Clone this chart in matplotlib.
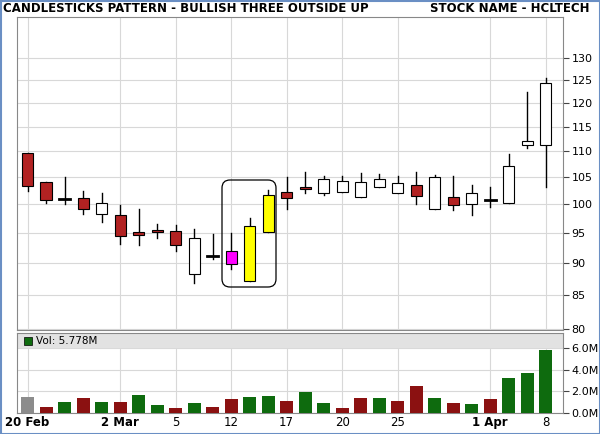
import matplotlib
matplotlib.use("Agg")
import matplotlib.pyplot as plt
from matplotlib.patches import Rectangle, FancyBboxPatch
from matplotlib.ticker import FixedLocator, NullLocator, FuncFormatter

opens  = [109.6,104.1,101.0,101.1,98.3,98.1,95.1,95.5,95.4,88.3,91.1,91.9,87.2,95.2,102.2,103.2,102.0,102.2,101.3,103.2,102.0,103.5,99.2,101.3,100.1,100.7,100.25,111.2,111.2]
closes = [103.4,100.8,100.9,99.2,100.25,94.5,94.7,95.2,92.9,94.2,91.1,89.8,96.2,101.7,101.1,102.8,104.6,104.3,104.1,104.6,103.9,101.5,105.0,99.9,102.0,100.6,107.1,112.0,124.4]
highs  = [109.6,104.1,105.0,102.4,102.0,99.8,99.1,96.6,96.3,95.6,94.9,95.0,97.6,102.6,105.0,105.9,105.2,105.2,105.8,105.6,105.2,105.9,105.4,105.2,103.5,103.2,109.4,122.4,125.5]
lows   = [102.5,100.2,100.0,98.3,96.9,93.2,92.9,94.1,92.0,86.8,90.7,89.0,87.2,95.2,99.1,102.0,101.7,102.2,101.3,103.2,102.0,100.0,99.2,99.0,98.1,99.5,100.25,110.6,103.2]
volumes = [1.5,0.6,1.0,1.4,1.0,1.0,1.7,0.7,0.5,0.9,0.6,1.3,1.5,1.6,1.1,1.9,0.9,0.5,1.4,1.4,1.1,2.5,1.4,0.9,0.8,1.3,3.2,3.7,5.8]
vol_colors = ['g','r','G','r','G','r','G','G','r','G','r','r','G','G','r','G','G','r','r','G','r','r','G','r','G','r','G','G','G']
tick_pos = [0,5,8,11,14,17,20,25,28]
tick_labels = ['20 Feb','2 Mar','5','12','17','20','25','1 Apr','8']
pattern = [11,12,13]

fig = plt.figure(figsize=(6,4.34), dpi=100)
fig.patch.set_facecolor('white')
W,H = 600,434
ax = fig.add_axes([17/W, 1-330/H, 546/W, 313/H])
axv = fig.add_axes([17/W, 1-413/H, 546/W, 80/H])

for a in (ax, axv):
    a.set_facecolor('white')
    a.set_xlim(-0.57, 28.94)
    a.yaxis.tick_right()
    a.grid(True, color='#d8d8d8', lw=0.8)
    a.set_axisbelow(True)
    for s in a.spines.values():
        s.set_color('#888888')
    a.tick_params(axis='y', labelsize=8, length=4, color='#444444', pad=2)
    a.xaxis.set_major_locator(FixedLocator(tick_pos))

ax.set_yscale('log')
ax.set_ylim(79.8, 140)
ax.yaxis.set_major_locator(FixedLocator([80,85,90,95,100,105,110,115,120,125,130]))
ax.yaxis.set_minor_locator(NullLocator())
ax.yaxis.set_major_formatter(FuncFormatter(lambda v,p: f"{v:.0f}"))
ax.tick_params(axis='x', length=0, labelbottom=False)

w = 0.6
for i,(o,c,h,l) in enumerate(zip(opens,closes,highs,lows)):
    ax.plot([i,i],[l,h], color='black', lw=1, zorder=2)
    if i in pattern:
        fc = 'magenta' if c < o else 'yellow'
    else:
        fc = '#b22222' if c < o else 'white'
    lo, hi = min(o,c), max(o,c)
    if hi - lo < 0.15:
        ax.plot([i-w/2,i+w/2],[o,o], color='black', lw=2, zorder=3)
    else:
        ax.add_patch(Rectangle((i-w/2, lo), w, hi-lo, facecolor=fc, edgecolor='black', lw=0.8, zorder=3))

box = FancyBboxPatch((222, H-287), 54, 107, boxstyle="round,pad=0,rounding_size=8",
                     transform=None, facecolor='none', edgecolor='black', lw=0.9, zorder=4)
fig.patches.append(box)

cmap = {'g':'#8c8c8c','r':'#8b1111','G':'#0e6b0e'}
axv.bar(range(len(volumes)), volumes, width=0.7, color=[cmap[c] for c in vol_colors], zorder=3)
axv.set_ylim(0, 7.4)
axv.yaxis.set_major_locator(FixedLocator([0,2,4,6]))
axv.yaxis.set_major_formatter(FuncFormatter(lambda v,p: f"{v:.1f}M"))
axv.set_xticklabels(tick_labels)
axv.tick_params(axis='x', length=0, labelsize=8.5, pad=2)
for lbl in axv.get_xticklabels():
    if lbl.get_text() in ('20 Feb','2 Mar','1 Apr'):
        lbl.set_fontweight('bold')
axv.axhspan(6.1, 7.4, color='#e2e2e2', zorder=1)
axv.add_patch(Rectangle((0.012,0.855),0.016,0.1, transform=axv.transAxes, facecolor='#0e6b0e', edgecolor='black', lw=0.5, zorder=4))
axv.text(0.035, 0.905, 'Vol: 5.778M', transform=axv.transAxes, fontsize=7.5, va='center', zorder=4)

fig.text(3/W, 1-9/H, 'CANDLESTICKS PATTERN - BULLISH THREE OUTSIDE UP', fontsize=8.5, fontweight='bold', va='center')
fig.text(590/W, 1-9/H, 'STOCK NAME - HCLTECH', fontsize=8.5, fontweight='bold', va='center', ha='right')
fig.patches.append(Rectangle((0.5,0.5), W-1, H-1, transform=None, facecolor='none', edgecolor='#6a8fc4', lw=1.5))

fig.savefig('out.png', dpi=100)
